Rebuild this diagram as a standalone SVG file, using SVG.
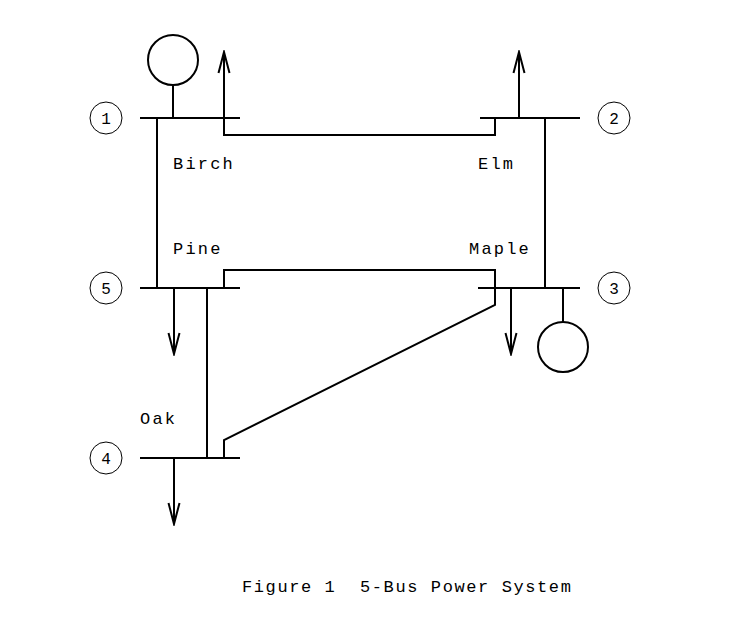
<svg xmlns="http://www.w3.org/2000/svg" width="746" height="638" viewBox="0 0 746 638">
<style>
line,polyline,circle{stroke:#000;stroke-width:2;fill:none}
.n circle{stroke-width:1}
text{font-family:"Liberation Mono",monospace;font-size:17px;fill:#000;letter-spacing:2.2px}
.c{text-anchor:middle;font-size:16px;letter-spacing:0}
.cap{white-space:pre;letter-spacing:1.6px}
</style>
<defs><marker id="a" markerWidth="24" markerHeight="14" refX="22" refY="7" orient="auto" markerUnits="userSpaceOnUse"><polyline points="1,1.5 22,7 1,12.5" style="stroke-width:2;fill:none"/></marker></defs>
<rect width="746" height="638" fill="#fff"/>
<g id="bus1"><line x1="140" y1="118" x2="240" y2="118"/><circle cx="173" cy="60" r="25"/><line x1="173" y1="85" x2="173" y2="118"/><g class="n"><circle cx="106" cy="118" r="16"/></g><text class="c" x="106" y="124">1</text><text x="173" y="169">Birch</text></g>
<g id="bus2"><line x1="480" y1="118" x2="580" y2="118"/><g class="n"><circle cx="614" cy="118" r="16"/></g><text class="c" x="614" y="124">2</text><text x="478" y="169">Elm</text></g>
<g id="bus3"><line x1="478" y1="288" x2="580" y2="288"/><circle cx="563" cy="347" r="25"/><line x1="563" y1="288" x2="563" y2="322"/><g class="n"><circle cx="614" cy="288" r="16"/></g><text class="c" x="614" y="294">3</text><text x="469" y="254">Maple</text></g>
<g id="bus4"><line x1="140" y1="458" x2="240" y2="458"/><g class="n"><circle cx="106" cy="458" r="16"/></g><text class="c" x="106" y="464">4</text><text x="140" y="424">Oak</text></g>
<g id="bus5"><line x1="140" y1="288" x2="240" y2="288"/><g class="n"><circle cx="106" cy="288" r="16"/></g><text class="c" x="106" y="294">5</text><text x="173" y="254">Pine</text></g>
<g id="connectors">
<line x1="224" y1="118" x2="224" y2="52" marker-end="url(#a)"/>
<line x1="519" y1="118" x2="519" y2="52" marker-end="url(#a)"/>
<line x1="174" y1="288" x2="174" y2="354" marker-end="url(#a)"/>
<line x1="511" y1="288" x2="511" y2="354" marker-end="url(#a)"/>
<line x1="174" y1="458" x2="174" y2="524" marker-end="url(#a)"/>
<polyline points="224,118 224,135 495,135 495,118"/>
<line x1="157" y1="118" x2="157" y2="288"/>
<line x1="545" y1="118" x2="545" y2="288"/>
<line x1="207" y1="288" x2="207" y2="458"/>
<polyline points="224,288 224,270 495,270 495,288"/>
<polyline points="495,288 495,305 224,440 224,458"/>
</g>
<text class="cap" x="242" y="592">Figure 1  5-Bus Power System</text>
</svg>
